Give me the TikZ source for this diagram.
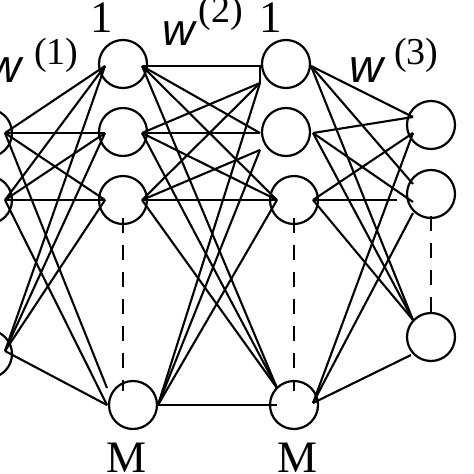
\documentclass[tikz,border=0pt]{standalone}
\usepackage{fontspec}
\setmainfont{Liberation Serif}
\newfontfamily\wfont{Liberation Sans}
\begin{document}
\begin{tikzpicture}[x=1pt,y=-1pt,
  neuron/.style={circle,draw,minimum size=48pt,inner sep=0pt,line width=2.2pt},
  conn/.style={line width=2.1pt},
  dashline/.style={line width=2.1pt,dash pattern=on 15pt off 12pt},
  lbl/.style={inner sep=0pt,font=\fontsize{45}{45}\selectfont},
  wlbl/.style={inner sep=0pt,anchor=base west}]
\useasboundingbox (0,0) rectangle (474,474);
\clip (0,0) rectangle (474,474);
% neurons
\node[neuron] (i1) at (-12,133) {};
\node[neuron] (i2) at (-12,200) {};
\node[neuron] (i3) at (-12,354) {};
\node[neuron] (a1) at (123,64) {};
\node[neuron] (b1) at (123,132) {};
\node[neuron] (c1) at (123,200) {};
\node[neuron] (m1) at (133,405) {};
\node[neuron] (a2) at (286,64) {};
\node[neuron] (b2) at (286,132) {};
\node[neuron] (c2) at (294,200) {};
\node[neuron] (m2) at (294,405) {};
\node[neuron] (a3) at (431,125) {};
\node[neuron] (b3) at (431,194) {};
\node[neuron] (m3) at (431,337) {};
% connection points
\coordinate (i1o) at (5,133);
\coordinate (i2o) at (5,200);
\coordinate (i3o) at (5,351);
\coordinate (h1a) at (105,66);
\coordinate (h1b) at (105,133);
\coordinate (h1c) at (105,200);
\coordinate (h1m) at (107,388);
\coordinate (h1n) at (107,405);
\coordinate (o1a) at (142,66);
\coordinate (o1b) at (142,133);
\coordinate (o1c) at (142,200);
\coordinate (o1m) at (158,405);
\coordinate (k2a) at (260,66);
\coordinate (h2a) at (260,83);
\coordinate (h2b) at (260,133);
\coordinate (h2d) at (260,150);
\coordinate (h2c) at (277,200);
\coordinate (h2m) at (277,388);
\coordinate (h2n) at (277,405);
\coordinate (o2a) at (311,66);
\coordinate (o2b) at (313,133);
\coordinate (o2c) at (313,200);
\coordinate (o2m) at (313,403);
\coordinate (h3a) at (413,117);
\coordinate (h3e) at (413,133);
\coordinate (h3b) at (413,184);
\coordinate (h3f) at (413,202);
\coordinate (h3g) at (397,200);
\coordinate (h3h) at (413,213);
\coordinate (h3m) at (413,320);
\coordinate (h3n) at (411,355);
% input -> layer 1
\foreach \s/\t in {i1o/h1a,i1o/h1b,i1o/h1c,i1o/h1m,
                   i2o/h1a,i2o/h1b,i2o/h1c,i2o/h1n,
                   i3o/h1a,i3o/h1b,i3o/h1c,i3o/h1n}
  \draw[conn] (\s) -- (\t);
% layer 1 -> layer 2
\draw[conn] (o1a) -- (k2a) -- (h2a);
\foreach \s/\t in {o1a/h2b,o1a/h2c,o1a/h2m,
                   o1b/h2a,o1b/h2b,o1b/h2c,o1b/h2m,
                   o1c/h2a,o1c/h2d,o1c/h2c,o1c/h2m,
                   o1m/h2a,o1m/h2d,o1m/h2c,o1m/h2n}
  \draw[conn] (\s) -- (\t);
% layer 2 -> layer 3
\foreach \s/\t in {o2a/h3a,o2a/h3b,o2a/h3m,
                   o2b/h3a,o2b/h3f,o2b/h3m,
                   o2c/h3e,o2c/h3g,o2c/h3m,
                   o2m/h3e,o2m/h3h,o2m/h3n}
  \draw[conn] (\s) -- (\t);
% dashed
\coordinate (d1s) at (123,218); \coordinate (d1e) at (123,391);
\coordinate (d2s) at (294,218); \coordinate (d2e) at (294,391);
\coordinate (d3s) at (431,216); \coordinate (d3e) at (431,313);
\draw[dashline] (d1s) -- (d1e);
\draw[dashline] (d2s) -- (d2e);
\draw[dashline] (d3s) -- (d3e);
% labels
\node[lbl,anchor=base] (one1) at (101.5,32) {1};
\node[lbl,anchor=base] (one2) at (270.5,32) {1};
\node[lbl,anchor=base] (M1) at (126.5,472) {M};
\node[lbl,anchor=base] (M2) at (297.5,472) {M};
\node[wlbl] (w1) at (-13,82) {\wfont\itshape\fontsize{47}{47}\selectfont w\hspace{13pt}\raisebox{18pt}{\rmfamily\upshape\fontsize{38}{38}\selectfont (1)}};
\node[wlbl] (w2) at (162,45) {\wfont\itshape\fontsize{45}{45}\selectfont w\hspace{4pt}\raisebox{23pt}{\rmfamily\upshape\fontsize{38}{38}\selectfont (2)}};
\node[wlbl] (w3) at (349,82) {\wfont\itshape\fontsize{47}{47}\selectfont w\hspace{11pt}\raisebox{18pt}{\rmfamily\upshape\fontsize{38}{38}\selectfont (3)}};
\end{tikzpicture}
\end{document}
